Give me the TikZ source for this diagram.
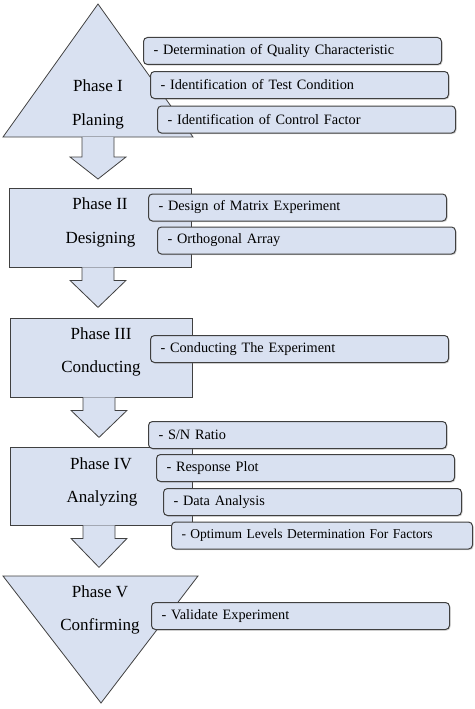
\documentclass[tikz,border=0pt]{standalone}
\usepackage{fontspec}
\setmainfont{Liberation Serif}
\usetikzlibrary{shadows}
\definecolor{fillc}{HTML}{D9E1F1}
\definecolor{linec}{HTML}{404040}
\tikzset{
  phase/.style={draw=linec, fill=fillc, line width=0.8pt, line join=miter},
  box/.style={draw=linec, fill=fillc, line width=1pt, rounded corners=4pt, anchor=west,
    minimum width=298pt, minimum height=27pt, text width=278pt, inner xsep=10pt, inner ysep=0pt,
    align=left, font=\fontsize{14.3}{16}\selectfont,
    drop shadow={shadow xshift=1pt, shadow yshift=-1.2pt, opacity=0.35}},
  ptext/.style={font=\fontsize{17}{19}\selectfont, inner sep=0pt, anchor=base},
  blockarrow/.style={draw=linec, fill=fillc, line width=0.8pt, line join=miter},
  pics/barrow/.style 2 args={code={
    \draw[blockarrow] (-16,0) -- (-16,#1) -- (-28,#1) -- (0,{#1+#2}) -- (28,#1) -- (16,#1) -- (16,0);
  }}
}
\begin{document}
\begin{tikzpicture}[x=1pt,y=-1pt]
\useasboundingbox (0,0) rectangle (474,709);
% phase shapes
\coordinate (t1a) at (98,4);
\coordinate (t1l) at (3,137);
\coordinate (t1r) at (193,137);
\draw[phase] (t1a) -- (t1r) -- (t1l) -- cycle;
\node[phase, minimum width=182pt, minimum height=79pt, inner sep=0pt] (p2) at (100,227.5) {};
\node[phase, minimum width=182pt, minimum height=79pt, inner sep=0pt] (p3) at (101,357.5) {};
\node[phase, minimum width=182pt, minimum height=78pt, inner sep=0pt] (p4) at (101,486) {};
\coordinate (t5l) at (3,576);
\coordinate (t5r) at (198,576);
\coordinate (t5b) at (101,703);
\draw[phase] (t5l) -- (t5r) -- (t5b) -- cycle;
% block arrows
\coordinate (a1) at (98,137);
\coordinate (a2) at ([xshift=-2pt]p2.south);
\coordinate (a3) at ([xshift=-2pt]p3.south);
\coordinate (a4) at ([xshift=-2pt]p4.south);
\pic at (a1) {barrow={20}{22}};
\pic at (a2) {barrow={13}{27}};
\pic at (a3) {barrow={13}{27}};
\pic at (a4) {barrow={13}{29}};
% phase texts
\node[ptext] (n1a) at (98,92) {Phase I};
\node[ptext] (n1b) at (98,125) {Planing};
\node[ptext] (n2a) at (100,209) {Phase II};
\node[ptext] (n2b) at (100.5,243) {Designing};
\node[ptext] (n3a) at (101,339) {Phase III};
\node[ptext] (n3b) at (101,372) {Conducting};
\node[ptext] (n4a) at (101,469) {Phase IV};
\node[ptext] (n4b) at (102,502) {Analyzing};
\node[ptext] (n5a) at (100,597) {Phase V};
\node[ptext] (n5b) at (100,630) {Confirming};
% boxes
\node[box] (b1) at (143,51) {- Determination of Quality Characteristic};
\node[box] (b2) at (150,85) {- Identification of Test Condition};
\node[box] (b3) at (157,119.5) {- Identification of Control Factor};
\node[box] (b4) at (148,207.5) {- Design of Matrix Experiment};
\node[box] (b5) at (157,240.5) {- Orthogonal Array};
\node[box] (b6) at (150,349) {- Conducting The Experiment};
\node[box] (b7) at (148,435) {- S/N Ratio};
\node[box] (b8) at (156,468) {- Response Plot};
\node[box] (b9) at (163,502) {- Data Analysis};
\node[box, minimum width=301pt, text width=281pt, font=\fontsize{13.5}{15}\selectfont] (b10) at (171,535.5) {- Optimum Levels Determination For Factors};
\node[box] (b11) at (151,616) {- Validate Experiment};
\end{tikzpicture}
\end{document}
